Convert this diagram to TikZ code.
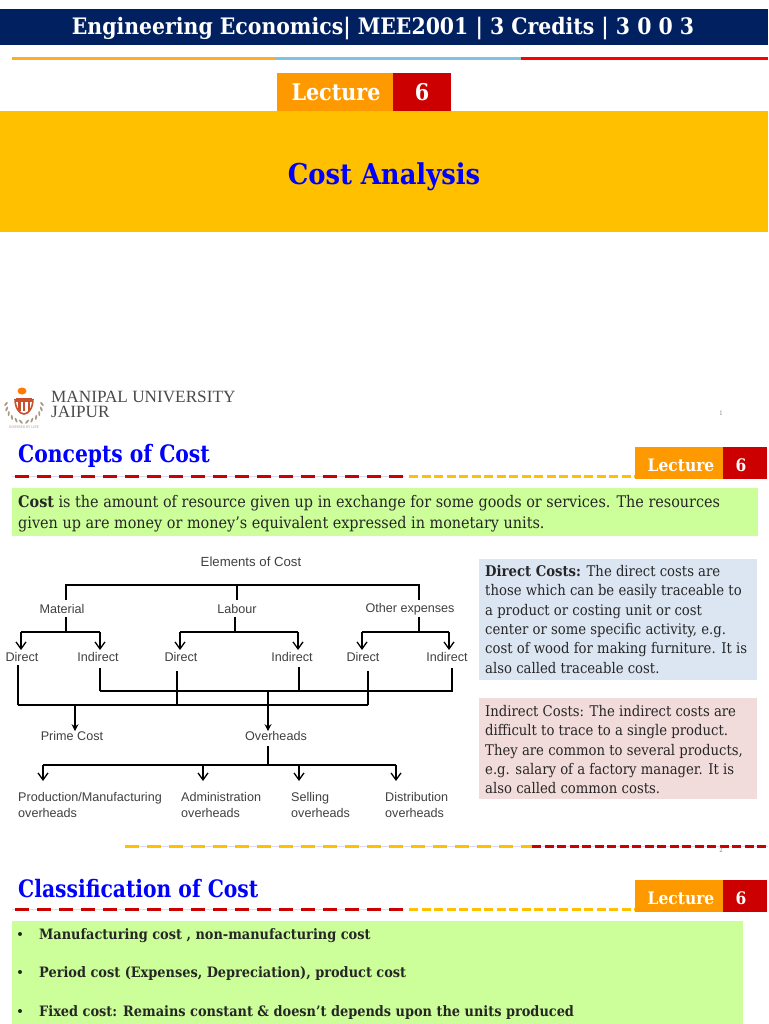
\documentclass[tikz,border=0pt]{standalone}
\usepackage{fontspec}
\setmainfont{DejaVu Serif Condensed}
\newfontfamily\diag{Liberation Sans}
\newfontfamily\logof{Liberation Serif}
\newfontfamily\hdf[FakeStretch=0.94]{DejaVu Serif Condensed}
\usetikzlibrary{arrows.meta}
\definecolor{navy}{HTML}{002060}
\definecolor{lorange}{HTML}{FF9900}
\definecolor{lred}{HTML}{CC0000}
\definecolor{band}{HTML}{FFC000}
\definecolor{lgreen}{HTML}{CCFF99}
\definecolor{lblue}{HTML}{DCE6F2}
\definecolor{lpink}{HTML}{F2DCDB}
\definecolor{ink}{HTML}{262626}
\definecolor{dtext}{HTML}{404040}
\definecolor{logored}{HTML}{C8502D}
\definecolor{logobrown}{HTML}{A89A86}
\definecolor{logotext}{HTML}{4A4A4A}
\definecolor{ruleo}{HTML}{FFAF1E}
\definecolor{ruleb}{HTML}{7DC3E6}
\definecolor{under}{HTML}{D9D9F0}
\tikzset{
  x=1pt,y=-1pt,
  lect/.style={font=\bfseries\fontsize{17.2}{20}\selectfont,text=white,inner sep=0pt},
  biglect/.style={font=\bfseries\fontsize{23}{24}\selectfont,text=white,inner sep=0pt},
  heading/.style={font=\hdf\bfseries\fontsize{24}{28}\selectfont,text=blue,anchor=west,inner sep=0pt},
  para/.style={font=\fontsize{14.7}{19.4}\selectfont,text=ink,anchor=north west,inner sep=0pt,align=left},
  bulletline/.style={font=\bfseries\fontsize{14.35}{17}\selectfont,text=ink,anchor=west,inner sep=0pt},
  lab/.style={font=\diag\fontsize{12.6}{16}\selectfont,text=dtext,inner sep=0pt},
  labl/.style={lab,anchor=north west,align=left},
  thin tree/.style={line width=1.4pt,black},
  mid tree/.style={line width=1.7pt,black},
  thick tree/.style={line width=2.2pt,black},
  barb/.style={-{Straight Barb[length=7pt,width=10pt,line width=1.3pt]},line width=1.3pt,black},
  fillarr/.style={-{Stealth[length=7pt,width=7pt]},line width=1.3pt,black},
  rdash/.style={line width=3pt,lred,dash pattern=on 14pt off 8pt},
  ydash/.style={line width=3pt,band,dash pattern=on 9pt off 3.5pt},
  underline/.style={line width=1pt,under},
  pageno/.style={font=\fontsize{6}{7}\selectfont,text=gray,inner sep=0pt},
}
\begin{document}
\begin{tikzpicture}
\useasboundingbox (0,0) rectangle (768,1024);
\fill[white] (0,0) rectangle (768,1024);
% slide 1
\fill[navy] (0,9) rectangle (768,45);
\node[font=\bfseries\fontsize{22.7}{24}\selectfont,text=white,inner sep=0pt] (head) at (383,29) {Engineering Economics| MEE2001 | 3 Credits | 3 0 0 3};
\fill[ruleo] (12,57.5) rectangle (275,60.5);
\fill[ruleb] (275,57.5) rectangle (521,60.5);
\fill[red] (521,57.5) rectangle (768,60.5);
\fill[band] (0,111) rectangle (768,232);
\fill[lorange] (277,73) rectangle (393,111);
\fill[lred] (393,73) rectangle (451,111);
\node[biglect] (l1) at (336,92) {Lecture};
\node[biglect] (n1) at (422,92) {6};
\node[font=\bfseries\fontsize{28.7}{32}\selectfont,text=blue,inner sep=0pt] (title) at (384,177) {Cost Analysis};
% logo
\foreach \a in {0,16,...,80}{
  \fill[logobrown,shift={(24+18*cos \a,404+18*sin \a)},rotate=130-\a] (0,0) ellipse (2.6 and 1);
  \fill[logobrown,shift={(24-18*cos \a,404+18*sin \a)},rotate=\a-130] (0,0) ellipse (2.6 and 1);
}
\draw[logored,line width=1.6pt] (15,399) arc[start angle=180,end angle=360,x radius=9,y radius=-15];
\fill[logored] (16,398) rectangle (32,402);
\fill[logored] (18,402) rectangle (20.5,411);
\fill[logored] (22.8,402) rectangle (25.3,411);
\fill[logored] (27.6,402) rectangle (30.1,411);
\fill[lorange!80!red] (22,391) ellipse (4.5 and 3.5);
\node[font=\fontsize{3.4}{3.4}\selectfont,text=logobrown,inner sep=0pt] (insp) at (24,427) {INSPIRED BY LIFE};
\node[font=\logof\fontsize{17.2}{15}\selectfont,text=logotext,anchor=north west,align=left,inner sep=0pt] (uni) at (51,391) {MANIPAL UNIVERSITY\\JAIPUR};
\node[pageno] (p1) at (721,413) {1};
% slide 2 header
\node[heading] (h2) at (18,456) {Concepts of Cost};
\draw[underline] (12,476) -- (405,476);
\draw[rdash] (15,476) -- (405,476);
\draw[ydash] (409,476) -- (635,476);
\fill[lorange] (635,447) rectangle (723,479);
\fill[lred] (723,447) rectangle (767,479);
\node[lect] (l2) at (681,465) {Lecture};
\node[lect] (n2) at (741,465) {6};
\fill[lgreen] (12,488) rectangle (758,536);
\node[para,font=\fontsize{16}{21}\selectfont] (cost) at (18,495) {\textbf{Cost} is the amount of resource given up in exchange for some goods or services. The resources\\given up are money or money’s equivalent expressed in monetary units.};
\fill[lblue] (479,559) rectangle (757,680);
\node[para] (dc) at (485,565) {\textbf{Direct Costs:} The direct costs are\\those which can be easily traceable to\\a product or costing unit or cost\\center or some specific activity, e.g.\\cost of wood for making furniture. It is\\also called traceable cost.};
\fill[lpink] (479,698) rectangle (757,799);
\node[para] (ic) at (485,705) {Indirect Costs: The indirect costs are\\difficult to trace to a single product.\\They are common to several products,\\e.g. salary of a factory manager. It is\\also called common costs.};
% tree labels
\node[lab,font=\diag\fontsize{13.2}{16}\selectfont] (elem) at (251,562) {Elements of Cost};
\node[lab] (mat) at (62,609) {Material};
\node[lab] (labr) at (237,609) {Labour};
\node[lab] (oth) at (410,609) {Other expenses};
\node[lab] (d1) at (22,657) {Direct};
\node[lab] (i1) at (98,657) {Indirect};
\node[lab] (d2) at (181,657) {Direct};
\node[lab] (i2) at (292,657) {Indirect};
\node[lab] (d3) at (363,657) {Direct};
\node[lab] (i3) at (447,657) {Indirect};
\node[lab] (prime) at (72,736) {Prime Cost};
\node[lab] (over) at (276,736) {Overheads};
\node[labl] (o1) at (18,792) {Production/Manufacturing\\overheads};
\node[labl] (o2) at (181,792) {Administration\\overheads};
\node[labl] (o3) at (291,792) {Selling\\overheads};
\node[labl] (o4) at (385,792) {Distribution\\overheads};
% tree junctions
\coordinate (tl) at (66,585); \coordinate (tm) at (237,585); \coordinate (tr) at (419,585);
\coordinate (ml) at (66,600); \coordinate (lm) at (237,600); \coordinate (rm) at (419,600);
\coordinate (ms) at (66,617); \coordinate (ls) at (235,617); \coordinate (rs) at (419,617);
\coordinate (mb) at (66,632); \coordinate (lb) at (235,632); \coordinate (rb) at (419,632);
\coordinate (ma) at (21,632); \coordinate (mz) at (100,632);
\coordinate (la) at (180,632); \coordinate (lz) at (298,632);
\coordinate (ra) at (362,632); \coordinate (rz) at (449,632);
\coordinate (ma2) at (21,650); \coordinate (mz2) at (100,650);
\coordinate (la2) at (180,650); \coordinate (lz2) at (298,650);
\coordinate (ra2) at (362,650); \coordinate (rz2) at (449,650);
% top tree
\draw[thick tree] (ml) -- (tl) -- (tr) -- (rm);
\draw[mid tree] (tm) -- (lm);
\draw[thick tree] (ms) -- (mb);
\draw[mid tree] (ls) -- (lb);
\draw[thick tree] (rs) -- (rb);
\draw[thick tree] (ma) -- (mz);
\draw[thin tree] (la) -- (lz);
\draw[thick tree] (ra) -- (rz);
\foreach \s/\e in {ma/ma2,mz/mz2,la/la2,lz/lz2,ra/ra2,rz/rz2}{\draw[barb] (\s) -- (\e);}
% direct to prime
\coordinate (d1t) at (18,665); \coordinate (d1b) at (18,705);
\coordinate (d2t) at (177,671); \coordinate (d2b) at (177,705);
\coordinate (d3t) at (368,671); \coordinate (d3b) at (368,705);
\coordinate (pj) at (75,705);
\draw[mid tree] (d1t) -- (d1b);
\draw[thick tree] (d1b) -- (d3b);
\draw[mid tree] (d2t) -- (d2b);
\draw[thick tree] (d3t) -- (d3b);
\draw[fillarr] (pj) -- (pj |- prime.north);
% indirect to overheads
\coordinate (i1t) at (100,668); \coordinate (i1b) at (100,691);
\coordinate (i2t) at (299,667); \coordinate (i2b) at (299,691);
\coordinate (i3t) at (452,668); \coordinate (i3b) at (452,691);
\coordinate (oj) at (268,691);
\draw[thick tree] (i1t) -- (i1b);
\draw[mid tree] (i1b) -- (i3b) -- (i3t);
\draw[mid tree] (i2t) -- (i2b);
\draw[fillarr] (oj) -- (oj |- over.north);
% overheads split
\coordinate (ss) at (268,746); \coordinate (sb) at (268,765);
\coordinate (s1) at (43,765); \coordinate (s2) at (203,765); \coordinate (s3) at (299,765); \coordinate (s4) at (396,765);
\coordinate (e1) at (43,781); \coordinate (e2) at (203,781); \coordinate (e3) at (299,781); \coordinate (e4) at (396,781);
\draw[mid tree] (ss) -- (sb);
\draw[thin tree] (s1) -- (s4);
\foreach \s/\e in {s1/e1,s2/e2,s3/e3,s4/e4}{\draw[barb] (\s) -- (\e);}
% slide divider
\draw[underline] (125,846) -- (768,846);
\draw[ydash,dash pattern=on 14pt off 8pt] (125,846) -- (532,846);
\draw[rdash,dash pattern=on 9pt off 3.5pt] (532,846) -- (768,846);
\node[pageno] (p2) at (721,850) {2};
% slide 3
\node[heading] (h3) at (18,889) {Classification of Cost};
\draw[underline] (12,909) -- (405,909);
\draw[rdash] (15,909) -- (405,909);
\draw[ydash] (409,909) -- (635,909);
\fill[lorange] (635,880) rectangle (723,912);
\fill[lred] (723,880) rectangle (767,912);
\node[lect] (l3) at (681,898) {Lecture};
\node[lect] (n3) at (741,898) {6};
\fill[lgreen] (12,921) rectangle (743,1024);
\foreach \y in {934,972,1011}{\fill[ink] (20,\y) circle (2);}
\node[bulletline] (t1) at (39,936) {Manufacturing cost , non-manufacturing cost};
\node[bulletline] (t2) at (39,974) {Period cost (Expenses, Depreciation), product cost};
\node[bulletline] (t3) at (39,1013) {Fixed cost: Remains constant \& doesn’t depends upon the units produced};
\end{tikzpicture}
\end{document}
